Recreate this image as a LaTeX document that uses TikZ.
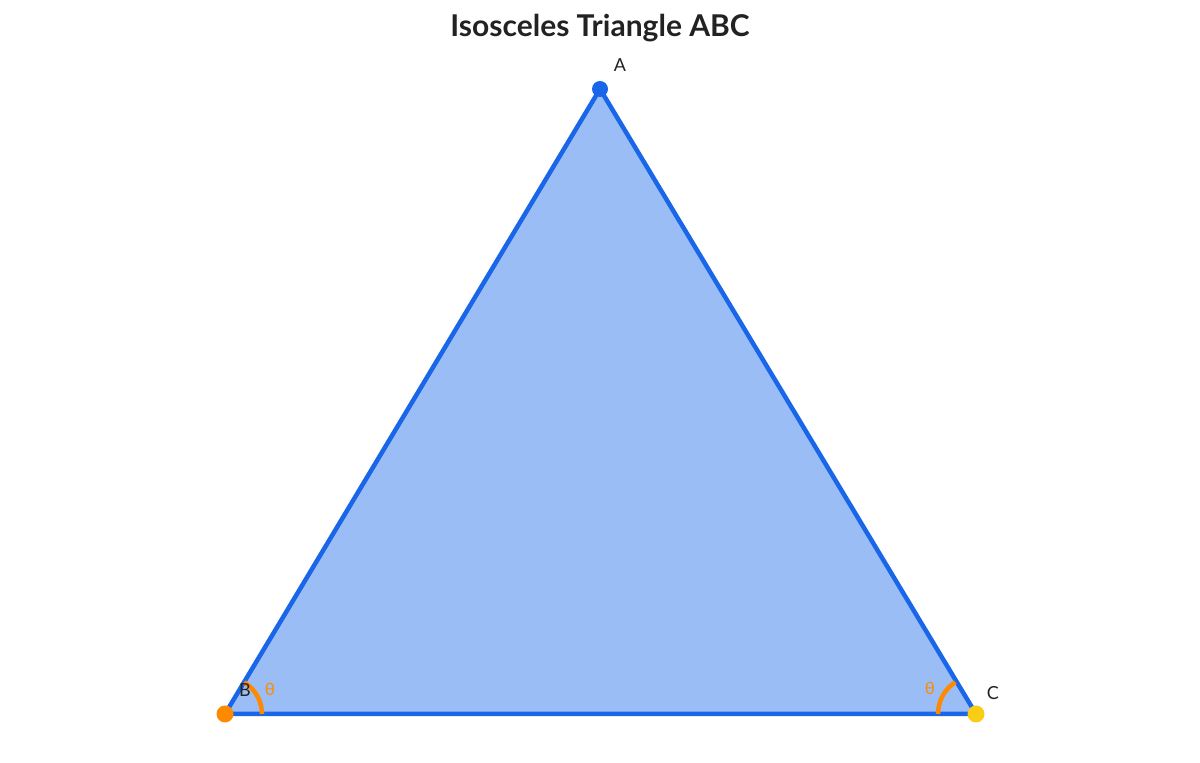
\documentclass[tikz,border=0pt]{standalone}
\usepackage{fontspec}
\setmainfont{Lato}
\definecolor{edgeblue}{HTML}{1A66E8}
\definecolor{fillblue}{HTML}{9BBDF6}
\definecolor{angleorange}{HTML}{FF8A00}
\definecolor{vertexyellow}{HTML}{FACC15}
\definecolor{labelgray}{HTML}{222222}

\tikzstyle{vertex}=[circle,
                        inner sep=0pt,
                        minimum size=17pt]
\tikzstyle{side}=[line width=4.5pt,
                        draw=edgeblue,
                        fill=fillblue,
                        line join=round]
\tikzstyle{angle mark}=[line width=4.5pt,
                        draw=angleorange]
\tikzstyle{vlabel}=[text=labelgray,
                        font=\fontsize{18}{20}\selectfont]
\tikzstyle{alabel}=[text=angleorange,
                        font=\fontsize{17}{20}\selectfont]

\begin{document}
\begin{tikzpicture}[x=1pt,y=1pt]
  \useasboundingbox (0,0) rectangle (1200,763);
  \node (title) [text=labelgray,font=\fontsize{30}{34}\selectfont\bfseries] at (600,735) {Isosceles Triangle ABC};

  \coordinate (a) at (600,674);
  \coordinate (b) at (225,49);
  \coordinate (c) at (976,49);

  % the triangle itself
  \path[side] (a) -- (b) -- (c) -- cycle;

  % the two equal base angles
  \draw[angle mark] ([shift={(0:37)}]b) arc (0:59:37);
  \draw[angle mark] ([shift={(180:38)}]c) arc (180:123:38);

  % the vertices and their labels
  \node (A) [vertex,fill=edgeblue,minimum size=16pt] at (a) {};
  \node (B) [vertex,fill=angleorange] at (b) {};
  \node (C) [vertex,fill=vertexyellow] at (c) {};

  \node (la) [vlabel] at (620,698) {A};
  \node (lb) [vlabel] at (245,73) {B};
  \node (lc) [vlabel] at (993,70) {C};
  \node (tb) [alabel] at (270,74) {θ};
  \node (tc) [alabel] at (930,75) {θ};
\end{tikzpicture}
\end{document}
